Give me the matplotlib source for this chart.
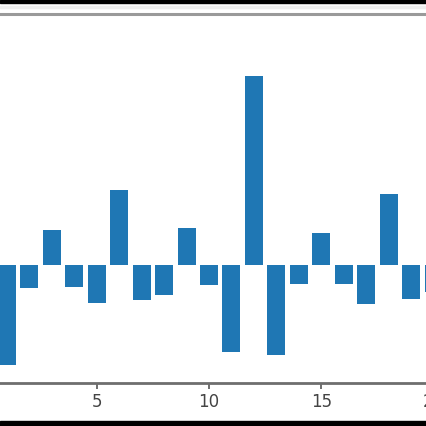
import numpy as np
import matplotlib
matplotlib.use("Agg")
import matplotlib.pyplot as plt
from matplotlib import patches

# ===============================================================================
# bar values (index 0 and the y-axis lie outside the crop)

positions = np.arange(1, 21)
values = [-2.00, -0.46, 0.70, -0.44, -0.76, 1.48, -0.70, -0.60, 0.74, -0.41,
          -1.74, 3.76, -1.80, -0.38, 0.64, -0.38, -0.78, 1.42, -0.68, -0.54]
xticks = [5, 10, 15, 20]

# ===============================================================================

fig = plt.figure(figsize=(4.26, 4.26), dpi=100)

# the axes reach past the figure edges, so the picture shows only a crop of it
ax = fig.add_axes([-0.1124, 0.1010, 1.2061, 0.8660])
ax.bar(positions, values, width=0.8, color='#1f77b4')

ax.set_xlim(-1.44, 21.44)
ax.set_ylim(-2.36, 5.0)
ax.set_xticks(xticks)
ax.set_yticks([])
ax.tick_params(axis='x', labelsize=12, colors='#555555', length=4, width=1.2,
               labelcolor='#444444')

ax.spines['bottom'].set_color('#6e6e6e')
ax.spines['bottom'].set_linewidth(2)
ax.spines['top'].set_color('#9a9a9a')
ax.spines['top'].set_linewidth(2.2)

# ===============================================================================
# dark frame borders of the screenshot

fig.patches.append(patches.Rectangle((0, 0.992), 1, 0.008, transform=fig.transFigure,
                                     color='black', zorder=10))
fig.patches.append(patches.Rectangle((0, 0.9815), 1, 0.004, transform=fig.transFigure,
                                     color='#eeeeee', zorder=10))
fig.patches.append(patches.Rectangle((0, 0), 1, 0.0115, transform=fig.transFigure,
                                     color='black', zorder=10))

fig.savefig('out.png', dpi=100)
